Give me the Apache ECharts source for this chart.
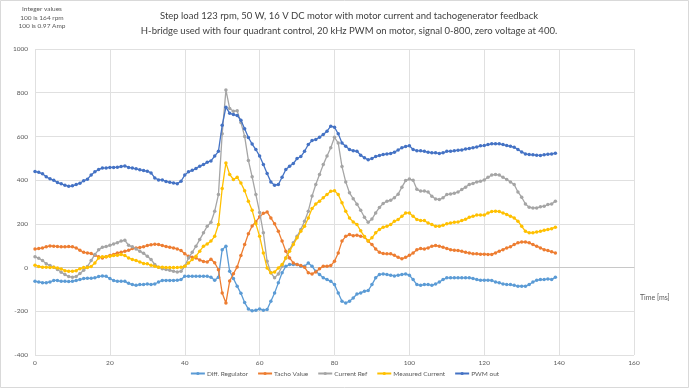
<!DOCTYPE html>
<html>
<head>
<meta charset="utf-8">
<script src="https://cdn.jsdelivr.net/npm/echarts@6/dist/echarts.min.js"></script>
<style>
html,body{margin:0;padding:0;background:#fff;}
#chart{width:689px;height:388px;}
</style>
</head>
<body>
<div id="chart"></div>
<script>
// sample time step (ms); one sample per ms starting at 0
const timeStepMs = 1;

const seriesNames = ['Diff. Regulator', 'Tacho Value', 'Current Ref', 'Measured Current', 'PWM out'];

const diffRegulator = [
-63,-66,-69,-69,-66,-59,-59,-63,-63,-64,
-63,-59,-55,-50,-49,-49,-47,-41,-38,-40,
-50,-59,-63,-63,-63,-72,-78,-81,-78,-78,
-75,-78,-75,-66,-59,-59,-59,-59,-58,-55,
-40,-40,-40,-40,-40,-40,-40,-44,-58,-44,
82,98,-17,-50,-85,-118,-160,-190,-198,-195,
-189,-195,-192,-154,-116,-70,-24,6,14,14,
14,6,6,21,6,-17,-32,-47,-55,-63,
-78,-116,-154,-162,-154,-139,-121,-116,-108,-105,
-78,-47,-32,-29,-32,-35,-38,-35,-32,-29,
-35,-55,-78,-81,-78,-78,-81,-75,-66,-55,
-47,-47,-47,-47,-47,-47,-47,-50,-55,-58,
-58,-58,-59,-66,-70,-75,-78,-78,-81,-85,
-85,-85,-78,-66,-58,-55,-55,-52,-55,-44
];

const tachoValue = [
85,87,90,95,99,98,96,95,95,96,
95,90,79,70,67,64,56,49,44,49,
55,60,67,70,75,79,87,90,92,95,
101,104,107,105,101,96,93,90,85,78,
63,52,47,44,35,28,26,38,22,-10,
-116,-162,-62,-28,3,55,105,155,190,210,
232,248,254,227,200,166,121,75,44,21,
14,9,2,-24,-29,-20,-5,6,6,9,
29,67,121,143,151,146,148,143,140,121,
105,85,70,64,63,63,56,47,40,47,
56,67,82,87,85,90,98,101,98,93,
87,82,79,78,75,70,67,63,63,61,
61,60,60,67,75,82,90,95,105,113,
117,117,113,105,98,90,82,78,72,67
];

const currentRef = [
49,43,32,18,9,2,-9,-21,-32,-41,
-44,-41,-27,-12,5,32,60,81,93,96,
102,108,114,121,125,102,95,85,75,65,
52,37,14,2,-5,-9,-12,-17,-20,-17,
6,44,70,98,128,159,189,207,258,334,
612,812,728,715,718,664,600,490,415,334,
252,159,29,-24,-47,-29,6,44,82,113,
143,174,212,258,327,380,426,471,510,548,
596,570,462,392,342,315,290,262,230,207,
222,250,275,293,304,308,320,336,368,398,
405,400,358,350,350,346,326,314,311,319,
334,337,340,346,357,368,380,385,392,395,
401,413,423,426,423,413,403,392,380,346,
322,291,276,273,273,278,281,288,291,304
];

const measuredCurrent = [
11,5,2,2,0,2,-2,-6,-14,-17,
-17,-14,-5,0,0,5,21,44,49,50,
52,55,56,60,55,44,37,32,26,19,
17,11,6,2,2,0,0,0,0,2,
6,21,37,52,75,98,108,121,143,197,
362,479,426,403,413,387,352,304,262,200,
143,67,-2,-24,-20,-2,14,44,75,105,
136,166,189,227,270,291,304,319,334,349,
352,334,296,258,227,209,197,168,142,122,
136,159,174,185,189,197,212,220,235,250,
250,235,220,215,215,204,197,189,189,194,
200,204,207,209,215,221,230,235,240,240,
240,250,256,258,256,250,243,235,227,212,
189,166,159,159,163,166,171,174,178,185
];

const pwmOut = [
439,436,429,415,406,400,389,383,377,372,
374,380,386,397,404,424,438,449,455,456,
458,458,459,462,465,458,455,452,447,444,
441,433,410,401,401,394,390,387,384,395,
423,438,445,453,464,471,482,488,510,532,
651,734,706,700,696,674,635,595,565,540,
510,472,430,392,377,380,413,449,464,476,
499,508,532,563,581,586,596,609,624,647,
642,612,570,555,540,535,532,514,502,493,
499,508,513,517,520,522,528,538,548,554,
557,540,535,534,532,528,525,525,522,525,
532,532,534,537,538,542,545,548,552,557,
558,563,566,567,566,563,558,555,551,540,
529,520,517,516,514,513,516,519,520,523
];

const xTicks = {min: 0, max: 160, interval: 20};
const yTicks = {min: -400, max: 1000, interval: 200};

const titleLines = [
  'Step load 123 rpm, 50 W, 16 V DC motor with motor current and tachogenerator feedback',
  'H-bridge used with four quadrant control, 20 kHz PWM on motor, signal 0-800, zero voltage at 400.'
];
const noteLines = ['Integer values', '100 is 164 rpm', '100 is 0.97 Amp'];
const xAxisTitle = 'Time [ms]';

const colors = ['#5B9BD5', '#ED7D31', '#A5A5A5', '#FFC000', '#4472C4'];
const allValues = [diffRegulator, tachoValue, currentRef, measuredCurrent, pwmOut];

function toPairs(arr) {
  return arr.map((v, i) => [i * timeStepMs, v]);
}

const FONT = 'Lato, "Open Sans", sans-serif';

const chart = echarts.init(document.getElementById('chart'), null, {renderer: 'canvas'});

const option = {
  backgroundColor: '#ffffff',
  animation: false,
  color: colors,
  grid: {left: 35, right: 55, top: 49, bottom: 33, containLabel: false},
  xAxis: {
    type: 'value',
    min: xTicks.min, max: xTicks.max, interval: xTicks.interval,
    axisLine: {show: true, onZero: true, lineStyle: {color: '#c8c8c8', width: 1}},
    axisTick: {show: false},
    axisLabel: {color: '#595959', fontSize: 6.5, fontFamily: FONT, margin: 4, formatter: v => String(v)},
    splitLine: {show: true, lineStyle: {color: '#e0e0e0', width: 1}}
  },
  yAxis: {
    type: 'value',
    min: yTicks.min, max: yTicks.max, interval: yTicks.interval,
    axisLine: {show: false},
    axisTick: {show: false},
    axisLabel: {color: '#595959', fontSize: 6.5, fontFamily: FONT, margin: 7, formatter: v => String(v)},
    splitLine: {show: true, lineStyle: {color: '#e0e0e0', width: 1}}
  },
  legend: {
    bottom: 6,
    left: 'center',
    itemWidth: 14,
    itemHeight: 4,
    itemGap: 9,
    textStyle: {color: '#595959', fontSize: 6.5, fontFamily: FONT, padding: [0, 0, 0, -3]},
    data: seriesNames
  },
  series: seriesNames.map((name, i) => ({
    name: name,
    type: 'line',
    data: toPairs(allValues[i]),
    symbol: 'circle',
    symbolSize: 3.5,
    showSymbol: true,
    lineStyle: {width: 1.3, color: colors[i]},
    itemStyle: {color: colors[i]},
    z: 2 + i
  })),
  graphic: [
    {type: 'rect', shape: {x: 0.5, y: 0.5, width: 688, height: 387}, style: {fill: 'none', stroke: '#d9d9d9', lineWidth: 1}, silent: true},
    {type: 'text', x: 349, y: 16, style: {text: titleLines[0], fill: '#404040', font: '9.5px ' + FONT, textAlign: 'center', textVerticalAlign: 'middle'}},
    {type: 'text', x: 349, y: 31, style: {text: titleLines[1], fill: '#404040', font: '9.5px ' + FONT, textAlign: 'center', textVerticalAlign: 'middle'}},
    {type: 'text', x: 42, y: 9, style: {text: noteLines[0], fill: '#595959', font: '6.5px ' + FONT, textAlign: 'center', textVerticalAlign: 'middle'}},
    {type: 'text', x: 42, y: 17.5, style: {text: noteLines[1], fill: '#595959', font: '6.5px ' + FONT, textAlign: 'center', textVerticalAlign: 'middle'}},
    {type: 'text', x: 42, y: 26, style: {text: noteLines[2], fill: '#595959', font: '6.5px ' + FONT, textAlign: 'center', textVerticalAlign: 'middle'}},
    {type: 'text', x: 640, y: 298, style: {text: xAxisTitle, fill: '#595959', font: '7px ' + FONT, textAlign: 'left', textVerticalAlign: 'middle'}}
  ]
};

chart.setOption(option);
</script>
</body>
</html>
